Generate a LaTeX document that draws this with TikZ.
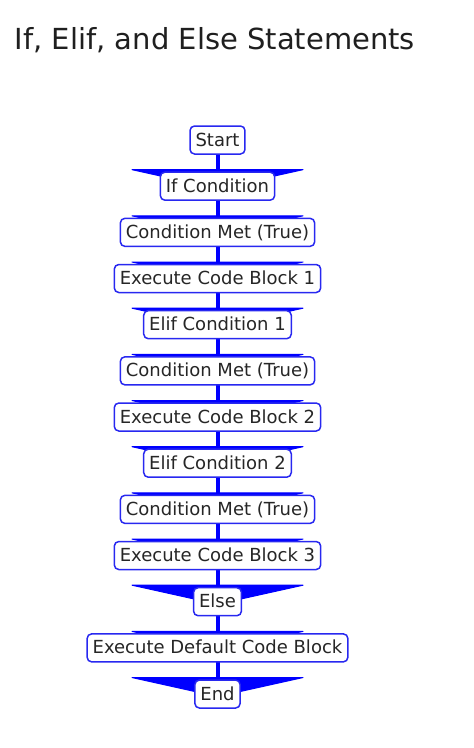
\documentclass[tikz,border=0pt]{standalone}
\usepackage{fontspec}
\setmainfont{DejaVu Sans}
\usetikzlibrary{calc,backgrounds}
\definecolor{edgeblue}{RGB}{40,40,240}
\tikzset{
  stepbox/.style={draw=edgeblue, line width=1.5bp, rounded corners=4.5bp, fill=white,
    font=\fontsize{18bp}{20bp}\selectfont, text height=13bp, text depth=1bp,
    inner xsep=5.5bp, inner ysep=0pt, minimum height=28bp, text=black!85},
  shaft/.style={blue, line width=4bp},
  head/.style={fill=blue, draw=blue, line width=1bp, line join=round},
  titletext/.style={anchor=base west, inner sep=0pt, text=black!88,
    font=\fontsize{29bp}{31bp}\selectfont},
}
\begin{document}
\begin{tikzpicture}[x=1bp,y=-1bp]
\useasboundingbox (0,0) rectangle (474,748);
\node[titletext] (title) at (14.5,50) {If, Elif, and Else Statements};
\foreach \i/\t in {1/Start, 2/If Condition, 3/Condition Met (True),
  4/Execute Code Block 1, 5/Elif Condition 1, 6/Condition Met (True),
  7/Execute Code Block 2, 8/Elif Condition 2, 9/Condition Met (True),
  10/Execute Code Block 3, 11/Else, 12/Execute Default Code Block, 13/End} {
  \node[stepbox] (n\i) at (217.5, {140+(\i-1)*46.17}) {\t};
}
\begin{scope}[on background layer]
\foreach \i [evaluate=\i as \j using int(\i+1)] in {1,...,12} {
  \draw[shaft] (n\i.center) -- ($(n\j.center)+(0,-16.5)$);
  \filldraw[head] ($(n\j.center)+(-85.5,-16.5)$) -- ($(n\j.center)+(85.5,-16.5)$)
    -- ($(n\j.center)+(0,2.5)$) -- cycle;
}
\end{scope}
\end{tikzpicture}
\end{document}
